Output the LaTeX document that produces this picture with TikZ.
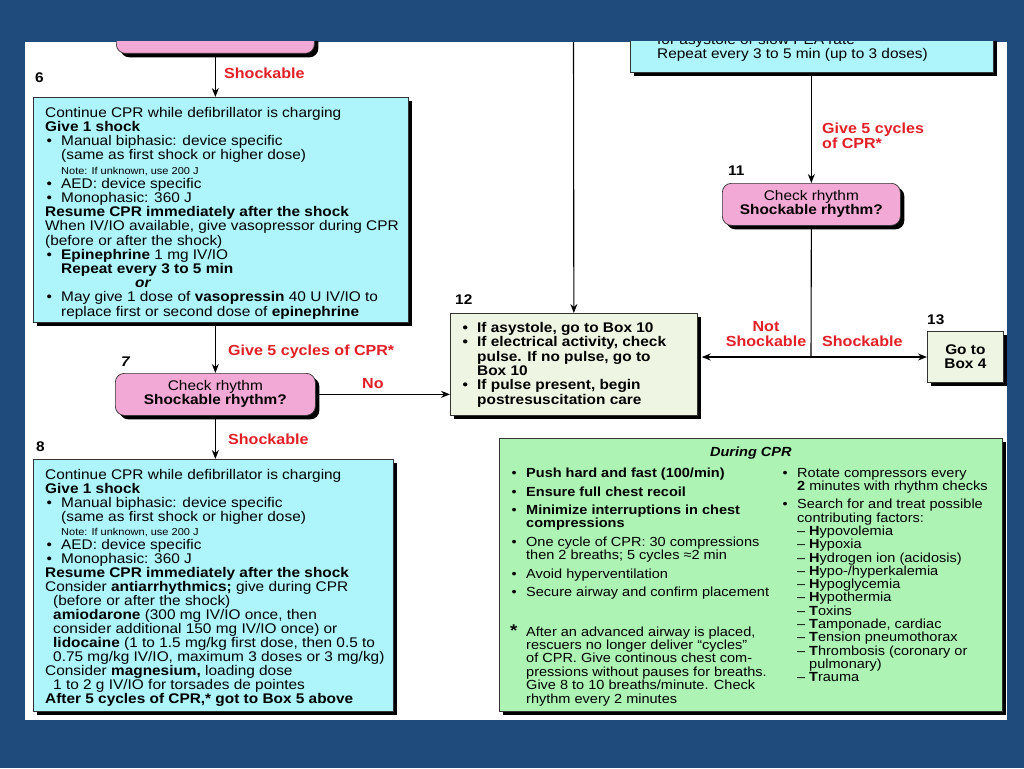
\documentclass[tikz,border=0pt]{standalone}
\usepackage{fontspec}
\setmainfont{Liberation Sans}[FakeStretch=1.1]
\usetikzlibrary{arrows.meta,shadows}
\setlength{\parindent}{0pt}
\definecolor{bgblue}{HTML}{1F4A7C}
\definecolor{boxcyan}{HTML}{AEF5FB}
\definecolor{boxpink}{HTML}{F2A9D6}
\definecolor{boxpale}{HTML}{EEF5E2}
\definecolor{boxgreen}{HTML}{ADF3B4}
\definecolor{labred}{HTML}{E21F26}
\newcommand{\cbul}{\makebox[16pt][l]{\hspace*{1.5pt}\textbullet}}
\newcommand{\cind}{\hspace*{16pt}}
\newcommand{\csind}{\hspace*{8pt}}
\newcommand{\cnote}{\fontsize{10}{14.2}\selectfont}
\newcommand{\cdash}{\makebox[12pt][l]{\textendash}}
\begin{document}
\begin{tikzpicture}[x=1pt,y=-1pt,
  box/.style={draw=black!80, line width=0.7pt, inner sep=0pt, anchor=north west,
     drop shadow={shadow xshift=4pt, shadow yshift=-4pt, fill=black, opacity=1}},
  cyanbox/.style={box, fill=boxcyan},
  pinkbox/.style={box, fill=boxpink, rounded corners=9pt, align=center, font=\fontsize{14}{14}\selectfont},
  palebox/.style={box, fill=boxpale},
  greenbox/.style={box, fill=boxgreen},
  txt/.style={anchor=north west, inner sep=0pt, align=left, font=\fontsize{14}{14.2}\selectfont},
  cprtxt/.style={anchor=north west, inner sep=0pt, align=left, font=\fontsize{13.2}{13.4}\selectfont},
  redlab/.style={text=labred, font=\fontsize{14.6}{15}\selectfont\bfseries, inner sep=0pt},
  numlab/.style={font=\fontsize{14}{15}\selectfont\bfseries, inner sep=0pt, anchor=west},
  arr/.style={-{Stealth[length=9pt,width=7pt]}, line width=1.1pt},
  conn/.style={line width=1.1pt}
]
\useasboundingbox (0,0) rectangle (1024,768);
\fill[bgblue] (0,0) rectangle (1024,768);
\fill[white] (25,42) rectangle (1007,720);
\begin{scope}
\clip (25,42) rectangle (1007,720);

% boxes
\node[pinkbox, minimum width=198pt, minimum height=33pt] (p5) at (116,20) {};
\node[cyanbox, minimum width=375pt, minimum height=225pt] (b6) at (33,97) {};
\node[pinkbox, minimum width=200pt, minimum height=42pt] (b7) at (115,373)
  {Check rhythm\\\textbf{Shockable rhythm?}};
\node[cyanbox, minimum width=360pt, minimum height=252pt] (b8) at (33,459) {};
\node[cyanbox, minimum width=363pt, minimum height=72pt] (b10) at (630,0) {};
\node[pinkbox, minimum width=178pt, minimum height=42pt] (b11) at (722,183)
  {Check rhythm\\\textbf{Shockable rhythm?}};
\node[palebox, minimum width=247pt, minimum height=102pt] (b12) at (450,313) {};
\node[palebox, minimum width=76pt, minimum height=51pt, align=center,
  font=\fontsize{14}{14.5}\selectfont\bfseries] (b13) at (927,331) {Go to\\Box 4};
\node[greenbox, minimum width=503pt, minimum height=273pt] (bcpr) at (499,438) {};

% box texts
\node[txt] (t6) at (45,107) {Continue CPR while defibrillator is charging\\
\textbf{Give 1 shock}\\
\cbul Manual biphasic: device specific\\
\cind (same as first shock or higher dose)\\
\cind {\cnote Note: If unknown, use 200 J}\\
\cbul AED: device specific\\
\cbul Monophasic: 360 J\\
\textbf{Resume CPR immediately after the shock}\\
When IV/IO available, give vasopressor during CPR\\
(before or after the shock)\\
\cbul \textbf{Epinephrine} 1 mg IV/IO\\
\cind \textbf{Repeat every 3 to 5 min}\\
\hspace*{90pt}\textbf{\textit{or}}\\
\cbul May give 1 dose of \textbf{vasopressin} 40 U IV/IO to\\
\cind replace first or second dose of \textbf{epinephrine}};

\node[txt, font=\fontsize{14}{14}\selectfont] (t8) at (45,469) {Continue CPR while defibrillator is charging\\
\textbf{Give 1 shock}\\
\cbul Manual biphasic: device specific\\
\cind (same as first shock or higher dose)\\
\cind {\cnote Note: If unknown, use 200 J}\\
\cbul AED: device specific\\
\cbul Monophasic: 360 J\\
\textbf{Resume CPR immediately after the shock}\\
Consider \textbf{antiarrhythmics;} give during CPR\\
\csind (before or after the shock)\\
\csind \textbf{amiodarone} (300 mg IV/IO once, then\\
\csind consider additional 150 mg IV/IO once) or\\
\csind \textbf{lidocaine} (1 to 1.5 mg/kg first dose, then 0.5 to\\
\csind 0.75 mg/kg IV/IO, maximum 3 doses or 3 mg/kg)\\
Consider \textbf{magnesium,} loading dose\\
\csind 1 to 2 g IV/IO for torsades de pointes\\
\textbf{After 5 cycles of CPR,* got to Box 5 above}};

\node[txt] (t10) at (657,34) {for asystole or slow PEA rate\\
Repeat every 3 to 5 min (up to 3 doses)};

\node[txt, font=\fontsize{14}{14.4}\selectfont\bfseries] (t12) at (461,322) {\cbul If asystole, go to Box 10\\
\cbul If electrical activity, check\\
\cind pulse. If no pulse, go to\\
\cind Box 10\\
\cbul If pulse present, begin\\
\cind postresuscitation care};

\node[inner sep=0pt, font=\fontsize{13.2}{14}\selectfont\bfseries\itshape] (tcprh) at (bcpr.north |- 0,453) {During CPR};

\node[cprtxt] (tcl) at (510,468) {\cbul \textbf{Push hard and fast (100/min)}\\[5pt]
\cbul \textbf{Ensure full chest recoil}\\[5pt]
\cbul \textbf{Minimize interruptions in chest}\\
\cind \textbf{compressions}\\[5pt]
\cbul One cycle of CPR: 30 compressions\\
\cind then 2 breaths; 5 cycles ≈2 min\\[5pt]
\cbul Avoid hyperventilation\\[5pt]
\cbul Secure airway and confirm placement\\[24pt]
\makebox[16pt][l]{\fontsize{17}{13}\selectfont\bfseries *}After an advanced airway is placed,\\
\cind rescuers no longer deliver “cycles”\\
\cind of CPR. Give continous chest com-\\
\cind pressions without pauses for breaths.\\
\cind Give 8 to 10 breaths/minute. Check\\
\cind rhythm every 2 minutes};

\node[cprtxt, font=\fontsize{13.2}{13.3}\selectfont] (tcr) at (781,468) {\cbul Rotate compressors every\\
\cind \textbf{2} minutes with rhythm checks\\[5pt]
\cbul Search for and treat possible\\
\cind contributing factors:\\
\cind \cdash\textbf{H}ypovolemia\\
\cind \cdash\textbf{H}ypoxia\\
\cind \cdash\textbf{H}ydrogen ion (acidosis)\\
\cind \cdash\textbf{H}ypo-/hyperkalemia\\
\cind \cdash\textbf{H}ypoglycemia\\
\cind \cdash\textbf{H}ypothermia\\
\cind \cdash\textbf{T}oxins\\
\cind \cdash\textbf{T}amponade, cardiac\\
\cind \cdash\textbf{T}ension pneumothorax\\
\cind \cdash\textbf{T}hrombosis (coronary or\\
\cind \hspace*{12pt}pulmonary)\\
\cind \cdash\textbf{T}rauma};

% labels
\node[numlab] (n6) at (35,78) {6};
\node[numlab, font=\fontsize{14}{15}\selectfont\bfseries\itshape] (n7) at (121,362) {7};
\node[numlab] (n8) at (36,447) {8};
\node[numlab] (n11) at (728,171) {11};
\node[numlab] (n12) at (455,300) {12};
\node[numlab] (n13) at (927,320) {13};

\node[redlab, anchor=west] (l6) at (224,73) {Shockable};
\node[redlab, anchor=west] (l7a) at (228,352) {Give 5 cycles of CPR*};
\node[redlab, anchor=west] (lno) at (362,384) {No};
\node[redlab, anchor=west] (l8) at (228,439) {Shockable};
\node[redlab, anchor=west, align=left] (l11a) at (822,136) {Give 5 cycles\\of CPR*};
\node[redlab, align=center] (lns) at (766,334) {Not\\Shockable};
\node[redlab, anchor=west] (lsh) at (822,341) {Shockable};

% connectors
\coordinate (topv) at (573.5,42);
\coordinate (j) at (811,357);
\draw[arr] (p5.south) -- (p5.south |- b6.north);
\draw[arr] (b7.north |- b6.south) -- (b7.north);
\draw[arr] (b7.south) -- (b7.south |- b8.north);
\draw[arr] (b7.east) -- (b7.east -| b12.west);
\draw[arr] (topv) -- (b12.north);
\draw[arr] (b11.north |- b10.south) -- (b11.north);
\draw[conn] (b11.south) -- (j);
\draw[arr] (j) -- ([xshift=4pt]j -| b12.east);
\draw[arr] (j) -- (j -| b13.west);
\end{scope}
\end{tikzpicture}
\end{document}
